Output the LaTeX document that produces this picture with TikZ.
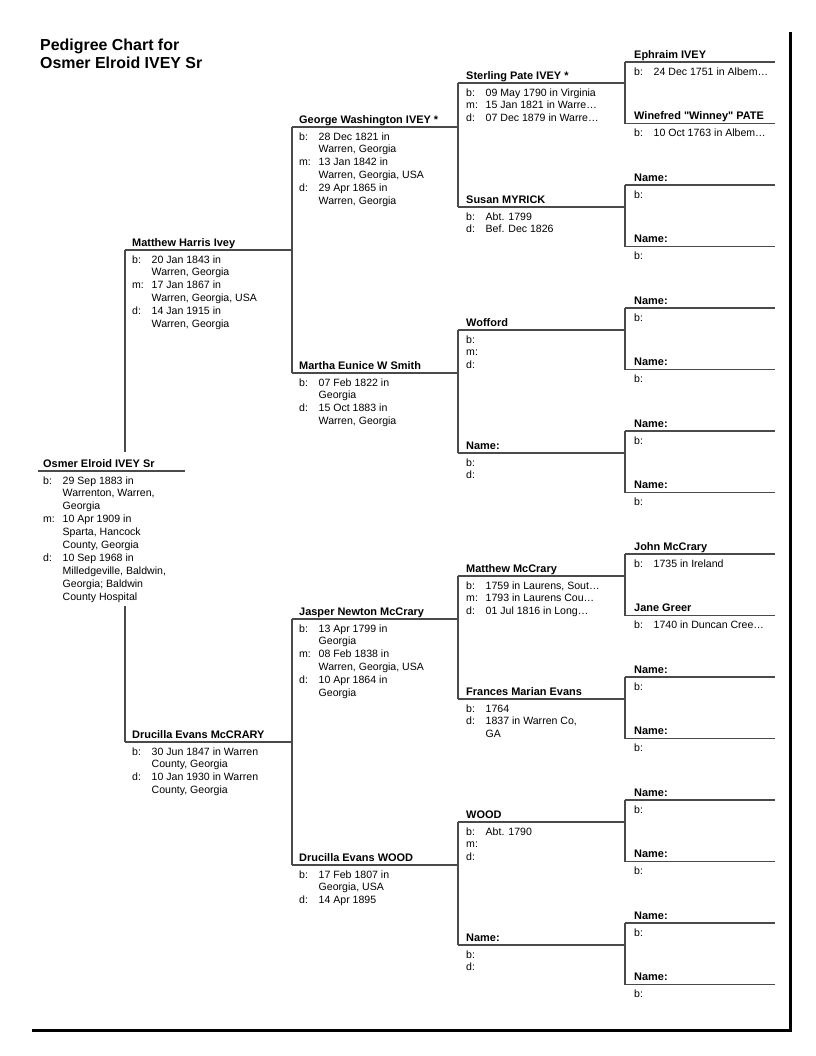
\documentclass[tikz,border=0pt]{standalone}
\usepackage{fontspec}
\setmainfont{Liberation Sans}[Ligatures=TeXOff]
\definecolor{Ink}{HTML}{000000}
\definecolor{Rule}{HTML}{4A4A4A}
\tikzset{
  chartline/.style={draw=Rule,line width=1.3bp},
  pageline/.style={draw=Ink,line width=3bp,line join=miter},
  namelabel/.style={anchor=base west,inner sep=0bp,
    font=\fontsize{11}{13}\selectfont\bfseries},
  factlabel/.style={anchor=base west,inner sep=0bp,
    font=\fontsize{10.6}{13}\selectfont},
  titlelabel/.style={anchor=north west,inner sep=0bp,align=left,
    font=\fontsize{16}{18}\selectfont\bfseries},
}
% one entry of the chart: rule, name above it, facts below it
\newcommand{\person}[7][7]{
  \draw[chartline] (#3,#4) coordinate (#2-l) -- ++(#5,0) coordinate (#2-r);
  \node[namelabel] (#2) at (#3+#1,#4-4) {#6};
  \node[factlabel] (#2-facts) at (#3+#1,#4+13)
    {\begin{tabular}[t]{@{}p{19.5bp}@{}l@{}}#7\end{tabular}};
}

\begin{document}
\begin{tikzpicture}[x=1bp,y=-1bp]
  \path[use as bounding box] (0,0) rectangle (816,1056);

  \node[titlelabel] (title) at (40,39) {Pedigree Chart for\\Osmer Elroid IVEY Sr};

  % generation 1
  \person[5]{osmer}{38}{471}{147}{Osmer Elroid IVEY Sr}
    {b: & 29 Sep 1883 in\\ & Warrenton, Warren,\\ & Georgia\\
     m: & 10 Apr 1909 in\\ & Sparta, Hancock\\ & County, Georgia\\
     d: & 10 Sep 1968 in\\ & Milledgeville, Baldwin,\\ & Georgia; Baldwin\\
        & County Hospital}

  % generation 2
  \person{matthew}{125}{250}{167}{Matthew Harris Ivey}
    {b: & 20 Jan 1843 in\\ & Warren, Georgia\\
     m: & 17 Jan 1867 in\\ & Warren, Georgia, USA\\
     d: & 14 Jan 1915 in\\ & Warren, Georgia}
  \person{drucilla}{125}{742}{167}{Drucilla Evans McCRARY}
    {b: & 30 Jun 1847 in Warren\\ & County, Georgia\\
     d: & 10 Jan 1930 in Warren\\ & County, Georgia}
  \coordinate (osmer-up) at (125,452);
  \coordinate (osmer-dn) at (125,606);
  \draw[chartline] (matthew-l) -- (osmer-up);
  \draw[chartline] (osmer-dn) -- (drucilla-l);

  % generation 3
  \person{george}{292}{127}{166}{George Washington IVEY *}
    {b: & 28 Dec 1821 in\\ & Warren, Georgia\\
     m: & 13 Jan 1842 in\\ & Warren, Georgia, USA\\
     d: & 29 Apr 1865 in\\ & Warren, Georgia}
  \person{martha}{292}{373}{166}{Martha Eunice W Smith}
    {b: & 07 Feb 1822 in\\ & Georgia\\
     d: & 15 Oct 1883 in\\ & Warren, Georgia}
  \person{jasper}{292}{619}{166}{Jasper Newton McCrary}
    {b: & 13 Apr 1799 in\\ & Georgia\\
     m: & 08 Feb 1838 in\\ & Warren, Georgia, USA\\
     d: & 10 Apr 1864 in\\ & Georgia}
  \person{dwood}{292}{865}{166}{Drucilla Evans WOOD}
    {b: & 17 Feb 1807 in\\ & Georgia, USA\\
     d: & 14 Apr 1895}
  \draw[chartline] (george-l) -- (martha-l);
  \draw[chartline] (jasper-l) -- (dwood-l);

  % generation 4
  \person[8]{sterling}{458}{83}{167}{Sterling Pate IVEY *}
    {b: & 09 May 1790 in Virginia\\
     m: & 15 Jan 1821 in Warre…\\
     d: & 07 Dec 1879 in Warre…}
  \person[8]{susan}{458}{207}{167}{Susan MYRICK}
    {b: & Abt. 1799\\ d: & Bef. Dec 1826}
  \person[8]{wofford}{458}{330}{167}{Wofford}
    {b: & \\ m: & \\ d: &}
  \person[8]{unka}{458}{453}{167}{Name:}
    {b: & \\ d: &}
  \person[8]{mmccrary}{458}{576}{167}{Matthew McCrary}
    {b: & 1759 in Laurens, Sout…\\
     m: & 1793 in Laurens Cou…\\
     d: & 01 Jul 1816 in Long…}
  \person[8]{frances}{458}{699}{167}{Frances Marian Evans}
    {b: & 1764\\ d: & 1837 in Warren Co,\\ & GA}
  \person[8]{wood}{458}{822}{167}{WOOD}
    {b: & Abt. 1790\\ m: & \\ d: &}
  \person[8]{unkb}{458}{945}{167}{Name:}
    {b: & \\ d: &}
  \draw[chartline] (sterling-l) -- (susan-l);
  \draw[chartline] (wofford-l) -- (unka-l);
  \draw[chartline] (mmccrary-l) -- (frances-l);
  \draw[chartline] (wood-l) -- (unkb-l);

  % generation 5
  \person[9]{ephraim}{625}{62}{150}{Ephraim IVEY}
    {b: & 24 Dec 1751 in Albem…}
  \person[9]{winefred}{625}{123.5}{150}{Winefred "Winney" PATE}
    {b: & 10 Oct 1763 in Albem…}
  \draw[chartline] (ephraim-l) -- (winefred-l);
  \person[9]{john}{625}{554}{150}{John McCrary}
    {b: & 1735 in Ireland}
  \person[9]{jane}{625}{615.5}{150}{Jane Greer}
    {b: & 1740 in Duncan Cree…}
  \draw[chartline] (john-l) -- (jane-l);
  \foreach \yy [count=\k] in {185,308,431,677,800,923} {
    \person[9]{blankf\k}{625}{\yy}{150}{Name:}{b: &}
    \person[9]{blankm\k}{625}{\yy+61.5}{150}{Name:}{b: &}
    \draw[chartline] (blankf\k-l) -- (blankm\k-l);
  }

  % page edge
  \draw[pageline] (32,1030) -- (790,1030) -- (790,32);
\end{tikzpicture}
\end{document}
